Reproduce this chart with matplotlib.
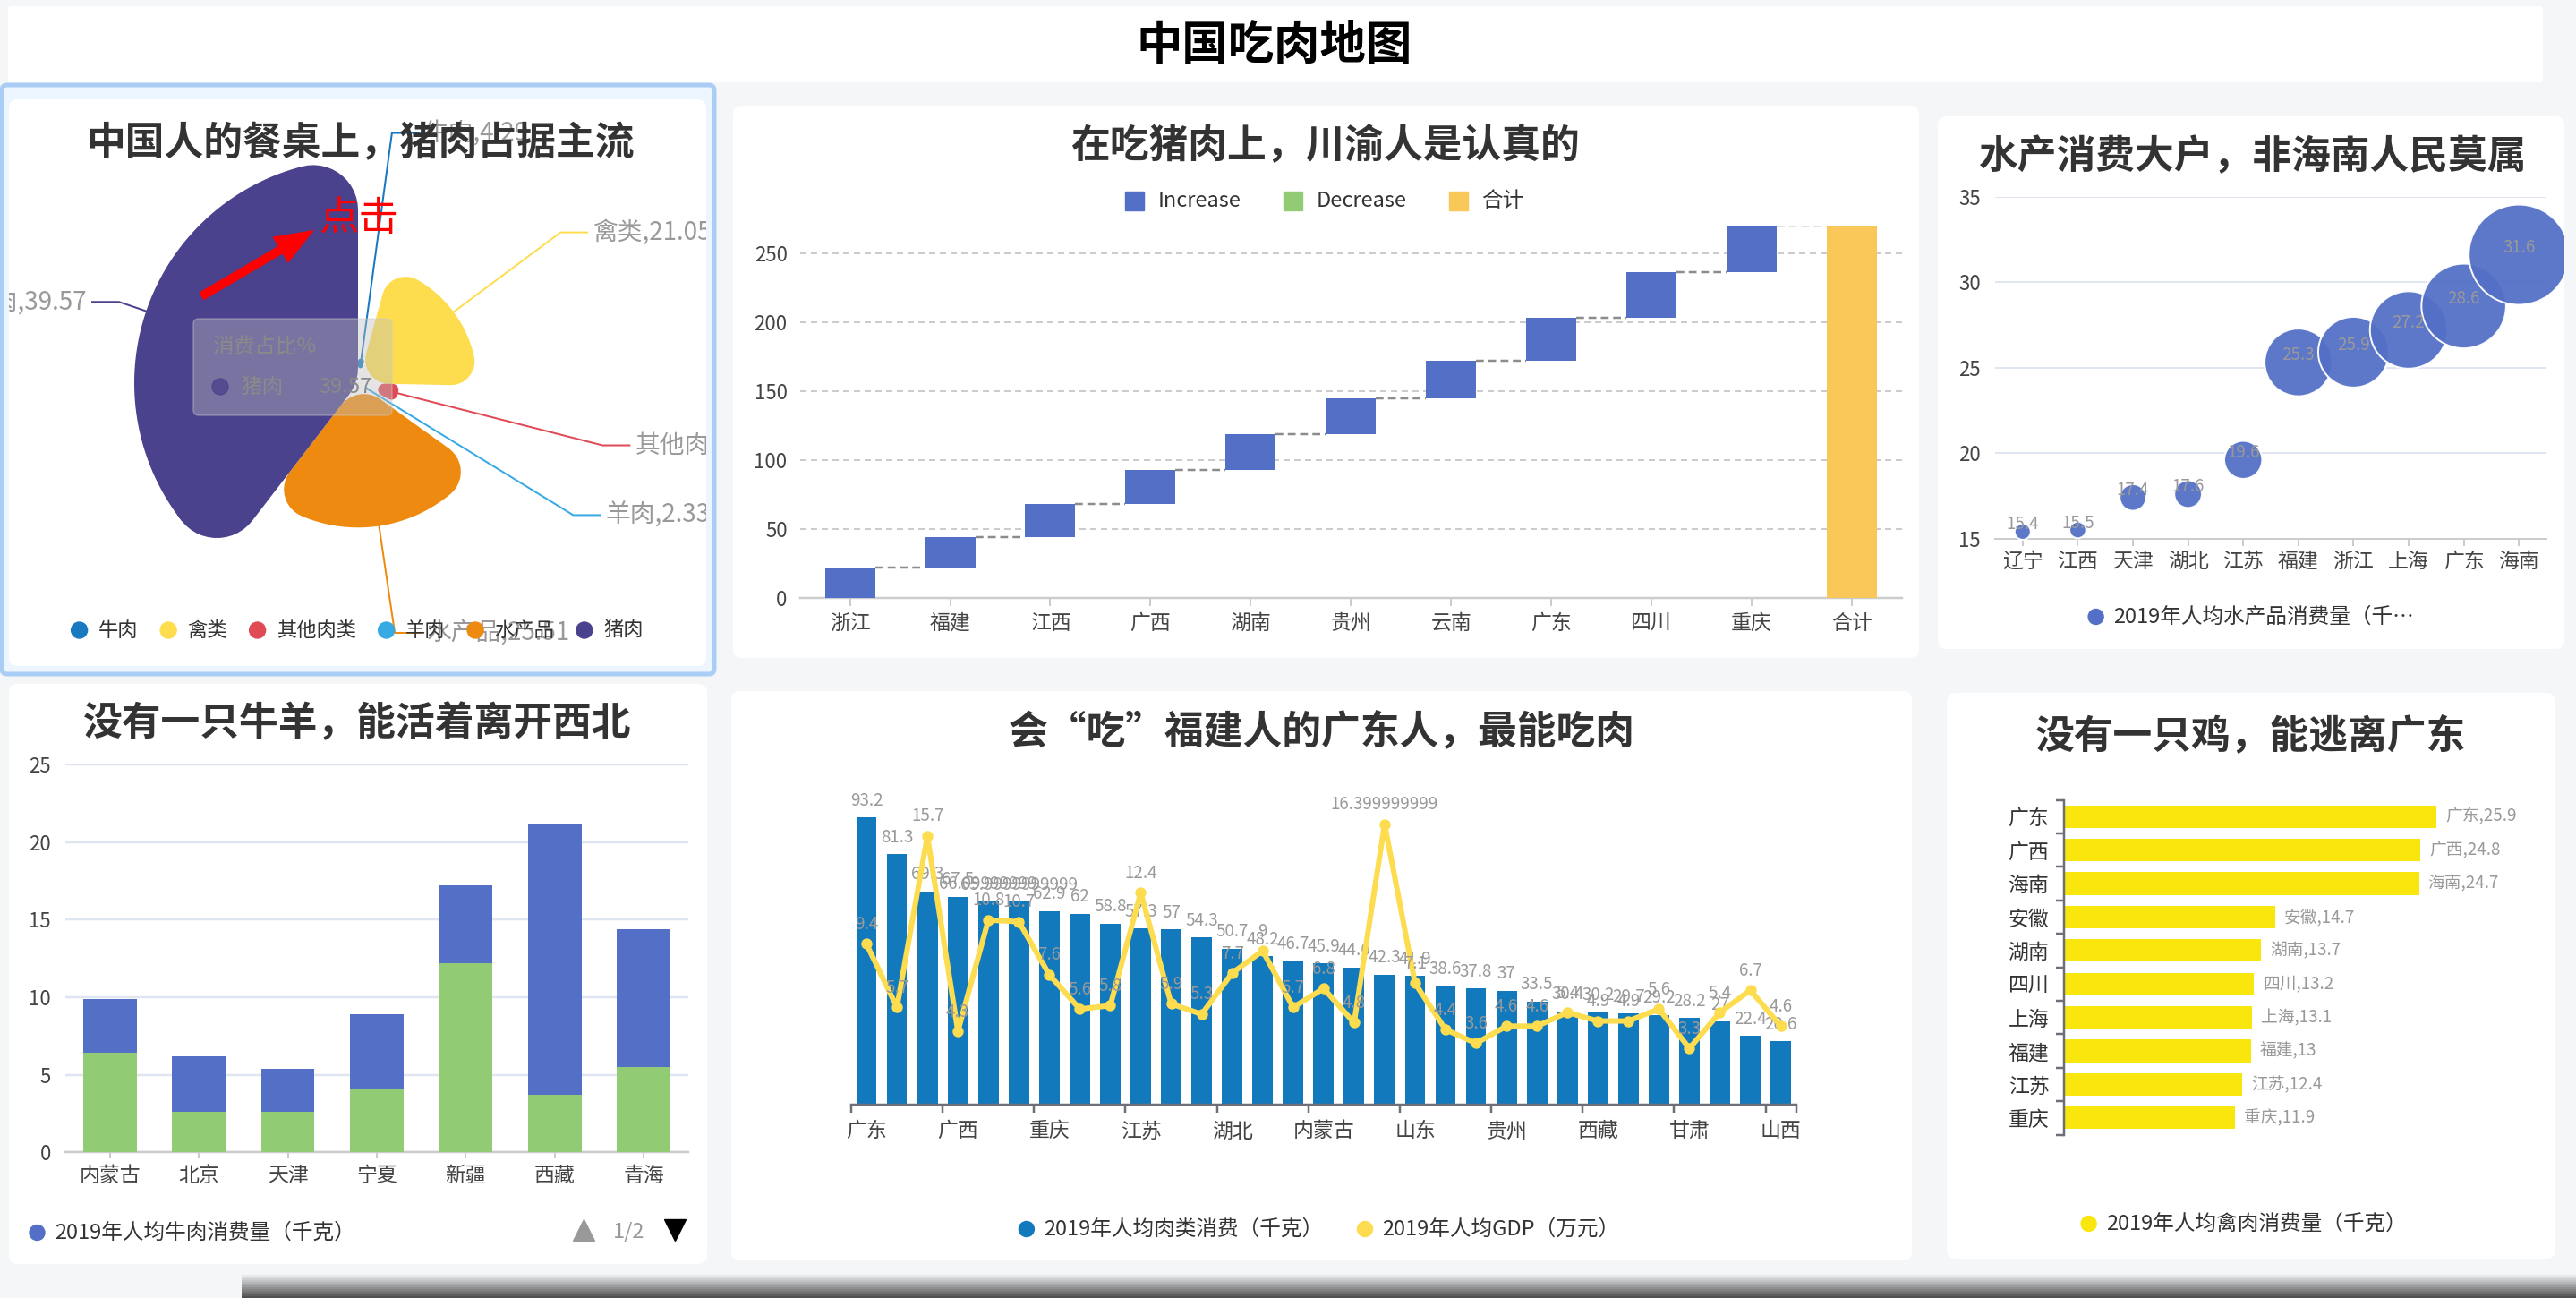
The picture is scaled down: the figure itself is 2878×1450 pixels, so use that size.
import numpy as np
import matplotlib
matplotlib.use("Agg")
import matplotlib.pyplot as plt
from matplotlib.patches import FancyBboxPatch, Rectangle, Polygon, FancyArrow, Circle

plt.rcParams['font.family'] = ['Noto Sans CJK SC', 'DejaVu Sans']

# ---------------- data ----------------
pie_names = ["牛肉", "禽类", "其他肉类", "羊肉", "水产品", "猪肉"]
pie_values = [4.29, 21.05, 7.25, 2.33, 25.51, 39.57]
pie_colors = ["#1878c0", "#fddd4e", "#e04a55", "#37a9e3", "#ee8a0f", "#4b428d"]

wf_names = ["浙江", "福建", "江西", "广西", "湖南", "贵州", "云南", "广东", "四川", "重庆"]
wf_values = [21.7, 22.4, 23.7, 25.1, 25.6, 26.1, 27.6, 30.8, 33.2, 33.9]

fish_names = ["辽宁", "江西", "天津", "湖北", "江苏", "福建", "浙江", "上海", "广东", "海南"]
fish_values = [15.4, 15.5, 17.4, 17.6, 19.6, 25.3, 25.9, 27.2, 28.6, 31.6]

nw_names = ["内蒙古", "北京", "天津", "宁夏", "新疆", "西藏", "青海"]
mutton_values = [6.4, 2.6, 2.6, 4.1, 12.2, 3.7, 5.5]
beef_values = [3.5, 3.6, 2.8, 4.8, 5.0, 17.5, 8.9]

meat_names = ["广东", "海南", "上海", "广西", "浙江", "福建", "重庆", "四川", "湖南", "江苏",
              "安徽", "江西", "湖北", "天津", "辽宁", "内蒙古", "云南", "北京", "山东", "吉林",
              "黑龙江", "贵州", "青海", "新疆", "西藏", "河北", "河南", "甘肃", "宁夏", "陕西", "山西"]
meat_values = [93.2, 81.3, 69.3, 67.5, 66.09999999, 65.9999999999, 62.9, 62, 58.8, 57.3,
               57, 54.3, 50.7, 48.2, 46.7, 45.9, 44.6, 42.3, 41.9, 38.6,
               37.8, 37, 33.5, 30.4, 30.2, 29.7, 29.2, 28.2, 27, 22.4, 20.6]
gdp_values = [9.4, 5.7, 15.7, 4.3, 10.8, 10.7, 7.6, 5.6, 5.8, 12.4,
              5.9, 5.3, 7.7, 9, 5.7, 6.8, 4.8, 16.399999999, 7.1, 4.4,
              3.6, 4.6, 4.6, 5.4, 4.9, 4.9, 5.6, 3.3, 5.4, 6.7, 4.6]

poultry_names = ["广东", "广西", "海南", "安徽", "湖南", "四川", "上海", "福建", "江苏", "重庆"]
poultry_values = [25.9, 24.8, 24.7, 14.7, 13.7, 13.2, 13.1, 13, 12.4, 11.9]


def fmt(v):
    return f"{v:.12g}"


W, H = 2878, 1450
fig = plt.figure(figsize=(W / 100, H / 100), dpi=100)
fig.patch.set_facecolor("#f5f6f8")


def px_axes(x0, y0, x1, y1):
    ax = fig.add_axes([x0 / W, 1 - y1 / H, (x1 - x0) / W, (y1 - y0) / H])
    ax.set_facecolor("none")
    return ax


def pt(px):
    return px * 0.72


# background / panels
bg = px_axes(0, 0, W, H)
bg.set_xlim(0, W)
bg.set_ylim(H, 0)
bg.axis("off")


def panel(x0, y0, x1, y1, r=10):
    bg.add_patch(FancyBboxPatch((x0, y0), x1 - x0, y1 - y0,
                                boxstyle=f"round,pad=0,rounding_size={r}", fc="white", ec="none"))


panel(9, 7, 2841, 92, r=3)
bg.add_patch(FancyBboxPatch((2, 95), 796, 658, boxstyle="round,pad=0,rounding_size=6",
                            fc="#edf5fe", ec="#a9cdf4", lw=pt(5)))
panel(10, 111, 789, 744)
panel(819, 118, 2144, 735)
panel(2165, 130, 2865, 725)
panel(10, 764, 790, 1412)
panel(817, 772, 2136, 1408)
panel(2175, 774, 2855, 1406)
# bottom shadow band
for k in range(14):
    bg.add_patch(Rectangle((270, 1422 + k * 2), W - 270, 2, color="#222222", alpha=0.06 * k, lw=0))

# ---------------- pie (rose) ----------------
pax = px_axes(10, 111, 789, 744)
cx, cy = 400, 428
pax.set_xlim(10 - cx, 789 - cx)
pax.set_ylim(cy - 744, cy - 111)
pax.axis("off")

vals = np.array(pie_values)
tot = vals.sum()
cum = np.concatenate([[0], np.cumsum(vals)])
a_start = 90 - 360 * cum[:-1] / tot
a_end = 90 - 360 * cum[1:] / tot
R0, R1 = 15, 250
radii = R0 + (R1 - R0) * (vals - vals.min()) / (vals.max() - vals.min())


def rounded_sector(r, t1, t2):
    a1, a2 = np.radians(t1), np.radians(t2)
    half = (a2 - a1) / 2
    mid = (a1 + a2) / 2
    d = min(0.2 * r, 0.8 * r * np.sin(half) / (1 + np.sin(half)))
    off = d / np.sin(half)
    P = off * np.array([np.cos(mid), np.sin(mid)])
    rr = r - d

    def hit(a):
        u = np.array([np.cos(a), np.sin(a)])
        b = P @ u
        t = -b + np.sqrt(b * b - P @ P + rr * rr)
        return P + t * u

    p1, p2 = hit(a1), hit(a2)
    b1 = np.arctan2(p1[1], p1[0])
    b2 = np.arctan2(p2[1], p2[0])
    while b2 < b1:
        b2 += 2 * np.pi
    arc = np.linspace(b1, b2, 80)
    pts = np.vstack([P, p1, np.column_stack([rr * np.cos(arc), rr * np.sin(arc)]), p2])
    return pts, d


for r, s, e, c in zip(radii, a_start, a_end, pie_colors):
    pts, d = rounded_sector(r, e, s)
    pax.add_patch(Polygon(pts, closed=True, fc=c, ec=c, lw=pt(2 * d), joinstyle="round"))

for name, v, r, s, e, c in zip(pie_names, pie_values, radii, a_start, a_end, pie_colors):
    m = np.radians((s + e) / 2)
    u = np.array([np.cos(m), np.sin(m)])
    p0 = r * u
    p1 = (R1 + 32) * u
    side = 1 if u[0] >= 0 else -1
    p2 = p1 + np.array([side * 30, 0])
    pax.plot([p0[0], p1[0], p2[0]], [p0[1], p1[1], p2[1]], color=c, lw=pt(2))
    pax.text(p2[0] + side * 6, p2[1], f"{name},{fmt(v)}", ha="left" if side > 0 else "right",
             va="center", fontsize=20, color="#999999", clip_on=True)

# ---------------- waterfall ----------------
wax = px_axes(893.6, 251.8, 2125, 667.7)
inc = np.array(wf_values)
tops = np.cumsum(inc)
wx = np.arange(len(inc))
wax.bar(wx, inc, bottom=tops - inc, width=0.5, color="#5470c6", zorder=3)
wax.bar(len(inc), tops[-1], width=0.5, color="#fac858", zorder=3)
for i in wx:
    wax.plot([i + 0.25, i + 0.75], [tops[i], tops[i]], color="#8c8c8c", lw=pt(2.5),
             ls=(0, (3.5, 2)), zorder=4)
wax.set_xlim(-0.5, len(inc) + 0.5)
wax.set_ylim(0, tops[-1])
wax.set_xticks(np.arange(len(inc) + 1))
wax.set_xticklabels(wf_names + ["合计"])
wax.set_yticks(np.arange(0, 251, 50))
wax.grid(axis="y", color="#cccccc", lw=pt(2), ls=(0, (3.5, 2.5)))
wax.set_axisbelow(True)
for s in ["top", "right", "left"]:
    wax.spines[s].set_visible(False)
wax.spines["bottom"].set_color("#cccccc")
wax.spines["bottom"].set_linewidth(pt(2.5))
wax.tick_params(axis="x", length=pt(9), width=pt(2), color="#cccccc", labelsize=16.5,
                labelcolor="#444444", pad=pt(8))
wax.tick_params(axis="y", length=0, labelsize=16, labelcolor="#444444", pad=pt(14))

# ---------------- bubble ----------------
bax = px_axes(2229, 219.6, 2845, 601.6)
fv = np.array(fish_values)
bx = np.arange(len(fv))
sizes = (pt(5.8 * (fv - 12.3))) ** 2
sc = bax.scatter(bx, fv, s=sizes, color="#5470c6", alpha=0.95, edgecolors="white",
                 linewidths=pt(2), zorder=3)
sc.set_clip_path(Rectangle((2165 / W, 1 - 725 / H), 700 / W, 595 / H, transform=fig.transFigure))
for x, v in zip(bx, fv):
    bax.annotate(fmt(v), (x, v), xytext=(0, pt(8)), textcoords="offset points", ha="center",
                 va="center", fontsize=13.5, color="#999999", zorder=5, annotation_clip=False)
bax.set_xlim(-0.5, len(fv) - 0.5)
bax.set_ylim(15, 35)
bax.set_yticks(np.arange(15, 36, 5))
bax.set_xticks(bx)
bax.set_xticklabels(fish_names)
bax.grid(axis="y", color="#e0e6f1", lw=pt(2))
bax.set_axisbelow(True)
for s in ["top", "right", "left"]:
    bax.spines[s].set_visible(False)
bax.spines["bottom"].set_color("#cccccc")
bax.spines["bottom"].set_linewidth(pt(2))
bax.tick_params(axis="x", length=pt(8), width=pt(2), color="#cccccc", labelsize=16.5,
                labelcolor="#444444", pad=pt(6))
bax.tick_params(axis="y", length=0, labelsize=16, labelcolor="#444444", pad=pt(16))

# ---------------- stacked bar ----------------
sax = px_axes(73, 853.9, 769, 1287.4)
sx = np.arange(len(nw_names))
sax.bar(sx, mutton_values, width=0.6, color="#91cc75", zorder=3)
sax.bar(sx, beef_values, bottom=mutton_values, width=0.6, color="#5470c6", zorder=3)
sax.set_xlim(-0.5, len(sx) - 0.5)
sax.set_ylim(0, 25)
sax.set_yticks(np.arange(0, 26, 5))
sax.set_xticks(sx)
sax.set_xticklabels(nw_names)
sax.grid(axis="y", color="#e0e6f1", lw=pt(2.5))
sax.set_axisbelow(True)
for s in ["top", "right", "left"]:
    sax.spines[s].set_visible(False)
sax.spines["bottom"].set_color("#cccccc")
sax.spines["bottom"].set_linewidth(pt(2.5))
sax.tick_params(axis="x", length=pt(7), width=pt(2), color="#cccccc", labelsize=16.5,
                labelcolor="#444444", pad=pt(8))
sax.tick_params(axis="y", length=0, labelsize=16, labelcolor="#444444", pad=pt(16))

# ---------------- bar + line ----------------
lax = px_axes(951, 890, 2006.6, 1234.3)
mx = np.arange(len(meat_names))
lax.bar(mx, meat_values, width=0.67, color="#1379bd", zorder=2)
for x, v in zip(mx, meat_values):
    lax.annotate(fmt(v), (x, v), xytext=(0, pt(19)), textcoords="offset points", ha="center",
                 va="center", fontsize=13.5, color="#999999", annotation_clip=False)
lax.set_ylim(0, 100)
lax.set_xlim(-0.5, len(mx) - 0.5)
lax.set_yticks([])
lax.set_xticks(mx[::3])
lax.set_xticklabels(meat_names[::3])
lax.set_xticks(list(np.arange(-0.5, len(mx) - 1, 3)) + [len(mx) - 0.5], minor=True)
for s in ["top", "right", "left"]:
    lax.spines[s].set_visible(False)
lax.spines["bottom"].set_color("#6e7079")
lax.spines["bottom"].set_linewidth(pt(2.5))
lax.tick_params(axis="x", which="major", length=0, labelsize=16.5, labelcolor="#444444", pad=pt(18))
lax.tick_params(axis="x", which="minor", length=pt(9), width=pt(2.5), color="#6e7079")

lax2 = lax.twinx()
lax2.plot(mx, gdp_values, color="#fddc4f", lw=pt(6), marker="o", ms=pt(11), zorder=3,
          solid_joinstyle="round")
for x, v in zip(mx, gdp_values):
    lax2.annotate(fmt(v), (x, v), xytext=(0, pt(22)), textcoords="offset points", ha="center",
                  va="center", fontsize=13.5, color="#999999", annotation_clip=False)
lax2.set_ylim(0, 18)
lax2.set_yticks([])
for s in lax2.spines.values():
    s.set_visible(False)

# ---------------- horizontal bar ----------------
hax = px_axes(2306.3, 893.5, 2787.6, 1267.5)
hy = np.arange(len(poultry_names))
hax.barh(hy, poultry_values, height=0.67, color="#f9e60c")
for y, n, v in zip(hy, poultry_names, poultry_values):
    hax.annotate(f"{n},{fmt(v)}", (v, y), xytext=(pt(10), 0), textcoords="offset points",
                 ha="left", va="center", fontsize=13.5, color="#999999", annotation_clip=False)
hax.set_xlim(0, 30)
hax.set_ylim(len(hy) - 0.5, -0.5)
hax.set_xticks([])
hax.set_yticks(hy)
hax.set_yticklabels(poultry_names)
hax.set_yticks(np.arange(-0.5, len(hy), 1), minor=True)
for s in ["top", "right", "bottom"]:
    hax.spines[s].set_visible(False)
hax.spines["left"].set_color("#6e7079")
hax.spines["left"].set_linewidth(pt(2.5))
hax.tick_params(axis="y", which="major", length=0, labelsize=16.5, labelcolor="#333333", pad=pt(17))
hax.tick_params(axis="y", which="minor", length=pt(9), width=pt(2.5), color="#6e7079")

# ---------------- overlay: titles, legends, annotations ----------------
ov = px_axes(0, 0, W, H)
ov.set_xlim(0, W)
ov.set_ylim(H, 0)
ov.axis("off")

ov.text(1424, 50, "中国吃肉地图", ha="center", va="center", fontsize=37, fontweight="bold", color="#000000")
titles = [("中国人的餐桌上，猪肉占据主流", 402, 160), ("在吃猪肉上，川渝人是认真的", 1480, 163),
          ("水产消费大户，非海南人民莫属", 2516, 175), ("没有一只牛羊，能活着离开西北", 399, 808),
          ("会“吃”福建人的广东人，最能吃肉", 1477, 818), ("没有一只鸡，能逃离广东", 2515, 823)]
for t, x, y in titles:
    ov.text(x, y, t, ha="center", va="center", fontsize=31.5, fontweight="bold", color="#333333")

renderer = fig.canvas.get_renderer()


def legend_row(items, cx, y, fs=17, dot=17, gap_txt=11, gap_item=28, shape="dot", left=None):
    widths = []
    for _, lab in items:
        t = ov.text(0, 0, lab, fontsize=fs)
        widths.append(t.get_window_extent(renderer=renderer).width)
        t.remove()
    total = sum(dot + gap_txt + w for w in widths) + gap_item * (len(items) - 1)
    x = cx - total / 2 if left is None else left
    for (c, lab), w in zip(items, widths):
        if shape == "dot":
            ov.add_patch(Circle((x + dot / 2, y), dot / 2, color=c))
        else:
            ov.add_patch(Rectangle((x, y - dot / 2), dot, dot, color=c))
        ov.text(x + dot + gap_txt, y, lab, fontsize=fs, va="center", color="#333333")
        x += dot + gap_txt + w + gap_item


legend_row(list(zip(pie_colors, pie_names)), 399, 704, fs=16, dot=18, gap_txt=12, gap_item=25)
legend_row([("#5470c6", "Increase"), ("#91cc75", "Decrease"), ("#fac858", "合计")], 1480, 224,
           fs=17, dot=21, gap_txt=15, gap_item=48, shape="rect")
legend_row([("#5470c6", "2019年人均水产品消费量（千…")], 2515, 689)
legend_row([("#5470c6", "2019年人均牛肉消费量（千克）")], 0, 1377, left=33)
legend_row([("#1379bd", "2019年人均肉类消费（千克）"), ("#fddc4f", "2019年人均GDP（万元）")],
           1474, 1373, gap_item=38)
legend_row([("#f9e60c", "2019年人均禽肉消费量（千克）")], 2507, 1367)

# legend pagination
ov.plot(652, 1374, marker="^", ms=pt(24), color="#999999")
ov.text(703, 1376, "1/2", ha="center", va="center", fontsize=17, color="#999999")
ov.plot(754, 1374, marker="v", ms=pt(24), color="#000000")

# tooltip
ov.add_patch(FancyBboxPatch((216, 356), 222, 108, boxstyle="round,pad=0,rounding_size=6",
                            fc="#bdbdbd", ec="#cfcfcf", alpha=0.4, lw=pt(1.5)))
ov.text(237, 388, "消费占比%", va="center", fontsize=17, color="#8a8a8a")
ov.add_patch(Circle((246, 432), 9, color="#4b428d", alpha=0.8))
ov.text(269, 432, "猪肉", va="center", fontsize=17, color="#8a8a8a")
ov.text(356, 432, fmt(pie_values[-1]), va="center", fontsize=17, color="#8a8a8a")

# red arrow + click hint
ov.add_patch(FancyArrow(225, 331, 126, -74, width=10, head_width=34, head_length=44,
                        length_includes_head=True, color="#ff0000", lw=0))
ov.text(401, 244, "点击", ha="center", va="center", fontsize=32, color="#ff0000")

fig.savefig("out.png", dpi=100, facecolor=fig.get_facecolor())
